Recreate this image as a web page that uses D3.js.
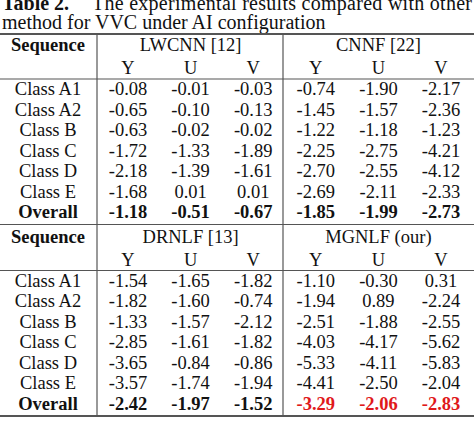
<!DOCTYPE html>
<html><head><meta charset="utf-8">
<script src="https://cdn.jsdelivr.net/npm/d3@7"></script>
<style>body{margin:0;background:#fff}text{font-family:"Liberation Serif","Times New Roman",serif;fill:#111}</style>
</head><body><div id="chart"></div>
<script>
const classes = ["Class A1", "Class A2", "Class B", "Class C", "Class D", "Class E", "Overall"];
const channels = ["Y", "U", "V"];
const methodsTop = ["LWCNN [12]", "CNNF [22]"];
const methodsBottom = ["DRNLF [13]", "MGNLF (our)"];
const lwcnn = [[-0.08,-0.01,-0.03],[-0.65,-0.10,-0.13],[-0.63,-0.02,-0.02],[-1.72,-1.33,-1.89],[-2.18,-1.39,-1.61],[-1.68,0.01,0.01],[-1.18,-0.51,-0.67]];
const cnnf = [[-0.74,-1.90,-2.17],[-1.45,-1.57,-2.36],[-1.22,-1.18,-1.23],[-2.25,-2.75,-4.21],[-2.70,-2.55,-4.12],[-2.69,-2.11,-2.33],[-1.85,-1.99,-2.73]];
const drnlf = [[-1.54,-1.65,-1.82],[-1.82,-1.60,-0.74],[-1.33,-1.57,-2.12],[-2.85,-1.61,-1.82],[-3.65,-0.84,-0.86],[-3.57,-1.74,-1.94],[-2.42,-1.97,-1.52]];
const mgnlf = [[-1.10,-0.30,0.31],[-1.94,0.89,-2.24],[-2.51,-1.88,-2.55],[-4.03,-4.17,-5.62],[-5.33,-4.11,-5.83],[-4.41,-2.50,-2.04],[-3.29,-2.06,-2.83]];

const W = 474, H = 442;
const svg = d3.select("#chart").append("svg").attr("width", W).attr("height", H);

// title (cut off at top in original)
svg.append("text").attr("x", 2).attr("y", 10).attr("font-size", 20).attr("font-weight", "bold").text("Table 2.");
svg.append("text").attr("x", 92).attr("y", 10).attr("font-size", 20)
  .attr("textLength", 380).attr("lengthAdjust", "spacing").text("The experimental results compared with other");
svg.append("text").attr("x", 2).attr("y", 29).attr("font-size", 20).text("method for VVC under AI configuration");

const x = d3.scalePoint().domain(d3.range(6)).range([128, 441]);
const xSplit = [97, 283];
const fs = 18.5;

const block = (top, methods, left, right) => {
  const head = top;
  const rows = d3.scaleBand().domain(classes).range([top + 45, top + 45 + 7 * 20.5]);
  svg.append("text").attr("x", 48).attr("y", head + 17).attr("text-anchor", "middle")
    .attr("font-size", fs).attr("font-weight", "bold").text("Sequence");
  methods.forEach((m, i) => {
    svg.append("text").attr("x", x(i * 3 + 1)).attr("y", head + 17).attr("text-anchor", "middle")
      .attr("font-size", fs).text(m);
    channels.forEach((c, j) => {
      svg.append("text").attr("x", x(i * 3 + j)).attr("y", head + 40).attr("text-anchor", "middle")
        .attr("font-size", fs).text(c);
    });
  });
  svg.append("line").attr("x1", 0).attr("x2", W).attr("y1", top + 45).attr("y2", top + 45)
    .attr("stroke", "#555").attr("stroke-width", 1.2);
  const g = svg.append("g");
  classes.forEach((cl, r) => {
    const y = rows(cl) + rows.bandwidth() / 2 + 6;
    const bold = cl === "Overall";
    g.append("text").attr("x", 48).attr("y", y).attr("text-anchor", "middle")
      .attr("font-size", fs).attr("font-weight", bold ? "bold" : null).text(cl);
    [left, right].forEach((data, i) => data[r].forEach((v, j) => {
      g.append("text").attr("x", x(i * 3 + j)).attr("y", y).attr("text-anchor", "middle")
        .attr("font-size", fs).attr("font-weight", bold ? "bold" : null)
        .style("fill", bold && right === mgnlf && i === 1 ? "#e0191b" : null)
        .text(d3.format(".2f")(v).replace("−", "-"));
    }));
  });
  return rows.range()[1];
};

svg.append("line").attr("x1", 0).attr("x2", W).attr("y1", 34).attr("y2", 34).attr("stroke", "#555").attr("stroke-width", 2);
const end1 = block(34, methodsTop, lwcnn, cnnf);
svg.append("line").attr("x1", 0).attr("x2", W).attr("y1", end1 + 2).attr("y2", end1 + 2).attr("stroke", "#555").attr("stroke-width", 1.2);
const end2 = block(end1 + 3, methodsBottom, drnlf, mgnlf);
svg.append("line").attr("x1", 0).attr("x2", W).attr("y1", end2 + 2).attr("y2", end2 + 2).attr("stroke", "#555").attr("stroke-width", 2);
xSplit.forEach(xs => svg.append("line").attr("x1", xs).attr("x2", xs).attr("y1", 34).attr("y2", end2 + 2)
  .attr("stroke", "#555").attr("stroke-width", 1.2));
</script></body></html>
